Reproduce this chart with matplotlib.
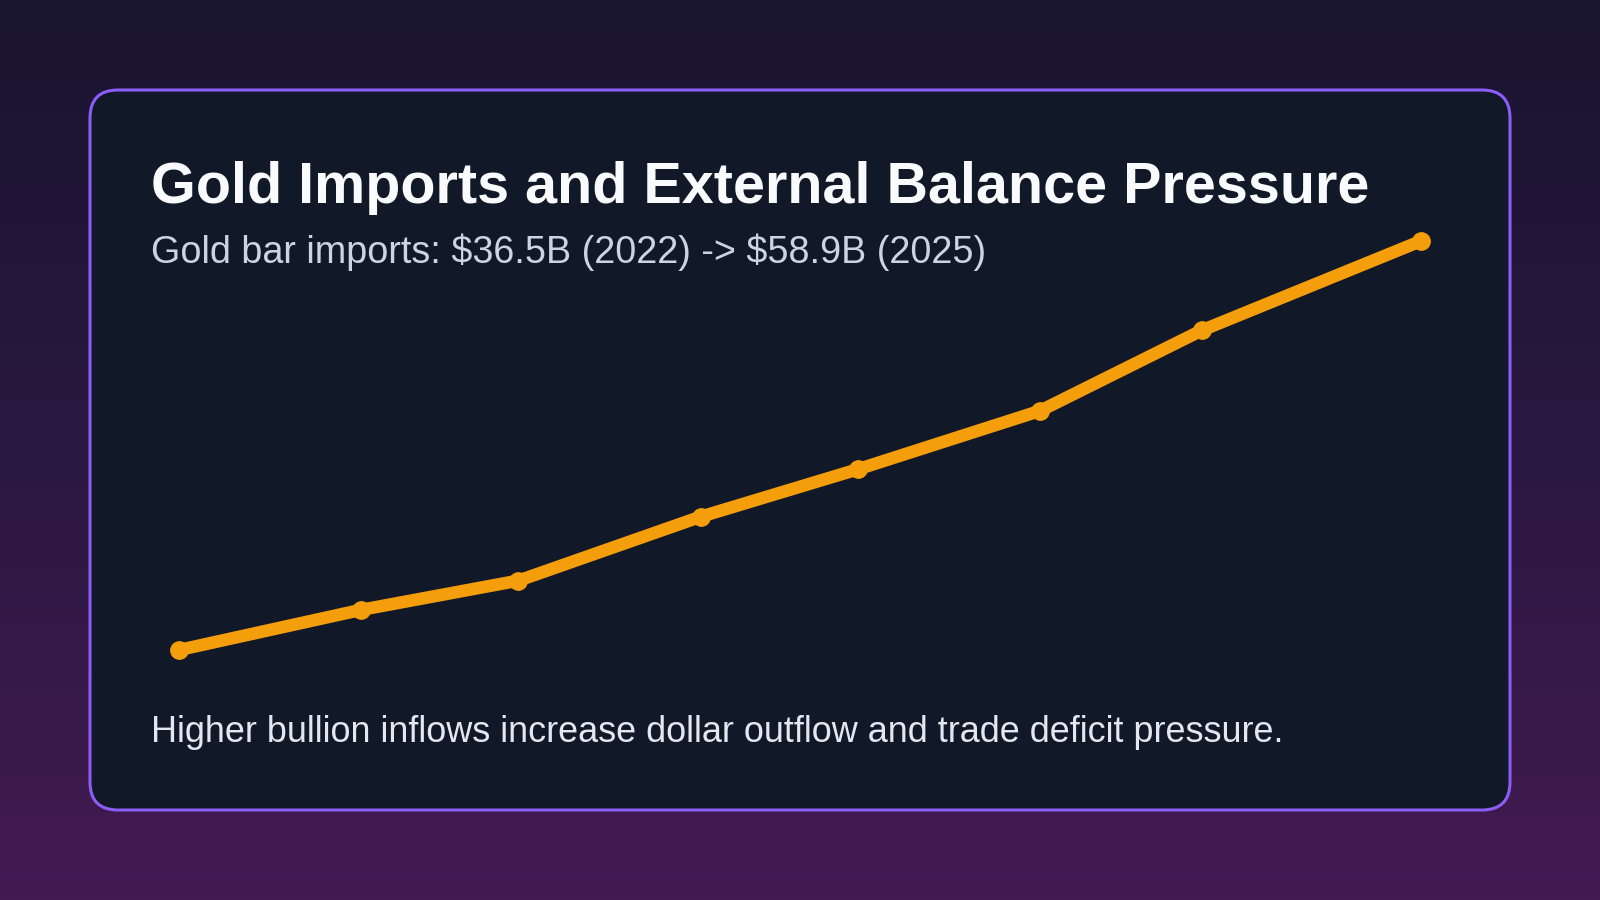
import matplotlib
matplotlib.use("Agg")
import matplotlib.pyplot as plt
import numpy as np
from matplotlib.patches import FancyBboxPatch
from matplotlib.colors import LinearSegmentedColormap

# data: gold bar imports, $B (x as decimal years)
periods = [2022.0, 2022.44, 2022.82, 2023.26, 2023.64, 2024.08, 2024.47, 2025.0]
imports_bn = [36.5, 38.7, 40.3, 43.8, 46.4, 49.6, 54.0, 58.9]

title = "Gold Imports and External Balance Pressure"
subtitle = "Gold bar imports: $36.5B (2022) -> $58.9B (2025)"
footer = "Higher bullion inflows increase dollar outflow and trade deficit pressure."

plt.rcParams['font.family'] = ['Liberation Sans', 'DejaVu Sans']
plt.rcParams['text.parse_math'] = False

W, H = 1600, 900
fig = plt.figure(figsize=(16, 9), dpi=100)

# background axes in pixel units
bg = fig.add_axes([0, 0, 1, 1])
bg.set_xlim(0, W)
bg.set_ylim(H, 0)
bg.axis('off')

grad = LinearSegmentedColormap.from_list('bg', ['#19142f', '#2a1840', '#441a53'])
bg.imshow(np.linspace(0, 1, 256).reshape(-1, 1), cmap=grad, aspect='auto',
          extent=[0, W, H, 0], zorder=0)

card = FancyBboxPatch((90, 90), 1420, 720, boxstyle="round,pad=0,rounding_size=28",
                      facecolor='#111827', edgecolor='#8b5cf6', linewidth=2.2, zorder=1)
bg.add_patch(card)

bg.text(151, 203, title, color='#f8fafc', fontsize=41.4, fontweight='bold',
        va='baseline', ha='left', zorder=3)
bg.text(151, 263, subtitle, color='#cbd5e1', fontsize=27.2,
        va='baseline', ha='left', zorder=3)
bg.text(151, 742, footer, color='#e2e8f0', fontsize=25.9,
        va='baseline', ha='left', zorder=3)

# line chart area
ax = fig.add_axes([179 / W, (H - 650) / H, (1421 - 179) / W, (650 - 241) / H])
ax.patch.set_alpha(0)
ax.axis('off')
ax.set_xlim(periods[0], periods[-1])
ax.set_ylim(min(imports_bn), max(imports_bn))
ax.plot(periods, imports_bn, color='#f59e0b', linewidth=9, marker='o',
        markersize=12.5, solid_capstyle='round', solid_joinstyle='round',
        clip_on=False, zorder=4)

fig.savefig('out.png', dpi=100)
